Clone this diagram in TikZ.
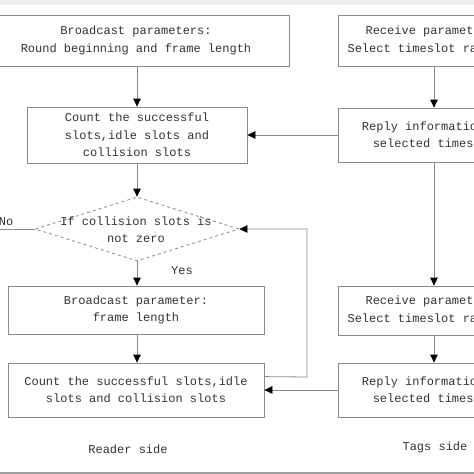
\documentclass[tikz,border=0pt]{standalone}
\usepackage{fontspec}
\setmonofont{Liberation Mono}
\usetikzlibrary{arrows.meta,shapes.geometric}
\definecolor{boxgray}{HTML}{8A8A8A}
\definecolor{txtgray}{HTML}{333333}
\tikzset{
  procbox/.style={draw=boxgray, line width=0.8pt, fill=white, align=center,
    inner sep=0pt, font=\ttfamily\fontsize{12}{17.4}\selectfont, text=txtgray},
  decbox/.style={draw=boxgray, dashed, line width=0.8pt, diamond, aspect=3.19,
    inner sep=0pt},
  dectext/.style={align=center, inner sep=0pt, font=\ttfamily\fontsize{12}{17.4}\selectfont, text=txtgray},
  flow/.style={draw=boxgray, line width=0.8pt, -{Triangle[length=8pt,width=7.5pt,fill=black,color=black]}},
  plainline/.style={draw=boxgray, line width=0.8pt},
  lbl/.style={font=\ttfamily\fontsize{12}{14}\selectfont, text=txtgray, inner sep=0pt}
}
\begin{document}
\begin{tikzpicture}[x=1pt,y=-1pt]
\useasboundingbox (0,0) rectangle (474,474);
\clip (0,0) rectangle (474,474);
\fill[white] (0,0) rectangle (474,474);
\fill[black!7] (0,0) rectangle (474,4.5);
\fill[black!38] (0,471.5) rectangle (474,474);
% left column
\node[procbox, minimum width=306pt, minimum height=51pt] (b1) at (136,40.5)
  {Broadcast parameters:\\Round beginning and frame length};
\node[procbox, minimum width=220pt, minimum height=56pt] (b2) at (137,135)
  {Count the successful\\slots,idle slots and\\collision slots};
\node[decbox, minimum width=204pt, minimum height=64pt] (d) at (137,229) {};
\node[dectext] (dt) at (136,230) {If collision slots is\\not zero};
\node[procbox, minimum width=256pt, minimum height=48pt] (b3) at (136,310)
  {Broadcast parameter:\\frame length};
\node[procbox, minimum width=256pt, minimum height=54pt] (b4) at (136,390)
  {Count the successful slots,idle\\slots and collision slots};
% right column
\node[procbox, minimum width=192pt, minimum height=51pt] (r1) at (434,40.5)
  {Receive parameters:\\Select timeslot randomly};
\node[procbox, minimum width=192pt, minimum height=54pt] (r2) at (434,135)
  {Reply information to\\selected timeslot};
\node[procbox, minimum width=192pt, minimum height=49pt] (r3) at (434,310.5)
  {Receive parameters:\\Select timeslot randomly};
\node[procbox, minimum width=192pt, minimum height=54pt] (r4) at (434,390)
  {Reply information to\\selected timeslot};
% labels
\node[lbl, anchor=east] (no) at (13.5,222) {No};
\node[lbl] (yes) at (182,271) {Yes};
\node[lbl] (reader) at (128,449) {Reader side};
\node[lbl] (tags) at (435,447) {Tags side};
\coordinate (noend) at (-5,229);
\coordinate (fb1) at (307,377);
\coordinate (fb2) at (307,229);
% connectors
\draw[flow] (b1.south -| b2.north) -- (b2.north);
\draw[flow] (b2) -- (d.north);
\draw[flow] (d.south) -- (b3.north -| d.south);
\draw[flow] (b3.south -| d.south) -- (b4.north -| d.south);
\draw[plainline] (d.west) -- (noend);
\draw[flow] ([yshift=-14pt]b4.north east) -- (fb1) -- (fb2) -- (d.east);
\draw[flow] (r1) -- (r2);
\draw[flow] (r2) -- (r3);
\draw[flow] (r3) -- (r4);
\draw[flow] (r2.west) -- (b2.east);
\draw[flow] (r4.west) -- (b4.east);
\end{tikzpicture}
\end{document}
